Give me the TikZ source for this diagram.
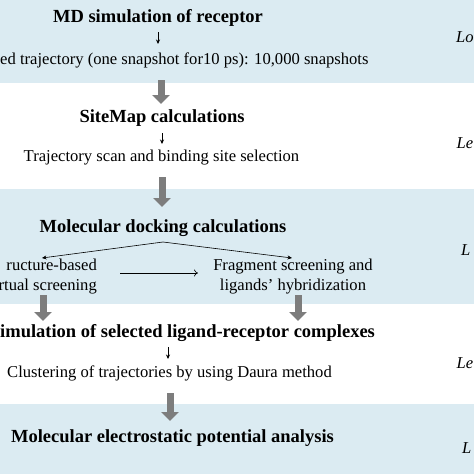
\documentclass[tikz,border=0pt]{standalone}
\usepackage{fontspec}
\setmainfont{Liberation Serif}
\usetikzlibrary{arrows.meta}
\definecolor{bandblue}{RGB}{219,235,242}
\definecolor{arrgray}{RGB}{125,125,125}
\begin{document}
\begin{tikzpicture}[x=1pt,y=1pt,
  titletext/.style={inner sep=0pt,font=\fontsize{18.5}{22}\selectfont\bfseries},
  subtext/.style={inner sep=0pt,font=\fontsize{16.6}{20}\selectfont},
  sidetext/.style={inner sep=0pt,anchor=west,font=\fontsize{16.6}{20}\selectfont\itshape},
  bigarr/.style={draw=arrgray,line width=7pt,-{Triangle[width=17pt,length=9pt]},arrgray},
  smallarr/.style={draw=black,line width=0.6pt,-{Stealth[length=4.5pt,width=4pt]}},
  openarr/.style={draw=black,line width=0.6pt,-{To[length=4pt,width=7pt]}}]
\useasboundingbox (0,0) rectangle (474,-474);
% bands
\fill[bandblue] (0,0) rectangle (474,-83);
\fill[bandblue] (0,-189) rectangle (474,-304);
\fill[bandblue] (0,-404) rectangle (474,-474);
% band 1
\node[titletext] (t1) at (158,-18) {MD simulation of receptor};
\coordinate (a1s) at (158,-32);
\coordinate (a1e) at (158,-44);
\node[subtext,anchor=west] (s1) at (0,-60) {ed trajectory (one snapshot for10 ps): 10,000 snapshots};
\coordinate (g1s) at (161,-80);
\coordinate (g1e) at (161,-104);
% band 2
\node[titletext] (t2) at (162,-118) {SiteMap calculations};
\coordinate (a2s) at (162,-133);
\coordinate (a2e) at (162,-144);
\node[subtext] (s2) at (161.5,-158) {Trajectory scan and binding site selection};
\coordinate (g2s) at (162,-177);
\coordinate (g2e) at (162,-207);
% band 3
\node[titletext] (t3) at (163,-228) {Molecular docking calculations};
\coordinate (sp) at (163,-242);
\coordinate (spl) at (42,-258);
\coordinate (spr) at (292,-258);
\node[subtext,align=right,anchor=east] (sl) at (97,-277) {ructure-based\\rtual screening};
\node[subtext,align=center] (sr) at (293,-277) {Fragment screening and\\ligands’ hybridization};
\coordinate (ms) at (120,-273);
\coordinate (me) at (198,-273);
\coordinate (g3ls) at (43,-295);
\coordinate (g3le) at (43,-321);
\coordinate (g3rs) at (298,-295);
\coordinate (g3re) at (298,-321);
% band 4
\node[titletext,anchor=west] (t4) at (0,-333) {imulation of selected ligand-receptor complexes};
\coordinate (a4s) at (168,-347);
\coordinate (a4e) at (168,-359);
\node[subtext] (s4) at (169.5,-373) {Clustering of trajectories by using Daura method};
\coordinate (g4s) at (170,-393);
\coordinate (g4e) at (170,-421);
% band 5
\node[titletext] (t5) at (172.5,-438) {Molecular electrostatic potential analysis};
% side labels
\node[sidetext] (l1) at (456,-37) {Lo};
\node[sidetext] (l2) at (456.5,-143) {Le};
\node[sidetext] (l3) at (461,-250) {L};
\node[sidetext] (l4) at (456.5,-363) {Le};
\node[sidetext] (l5) at (462,-448) {L};
% connectors
\draw[smallarr] (a1s) -- (a1e);
\draw[smallarr] (a2s) -- (a2e);
\draw[smallarr] (a4s) -- (a4e);
\draw[smallarr] (sp) -- (spl);
\draw[smallarr] (sp) -- (spr);
\draw[openarr] (ms) -- (me);
\draw[bigarr] (g1s) -- (g1e);
\draw[bigarr] (g2s) -- (g2e);
\draw[bigarr] (g3ls) -- (g3le);
\draw[bigarr] (g3rs) -- (g3re);
\draw[bigarr] (g4s) -- (g4e);
\end{tikzpicture}
\end{document}
